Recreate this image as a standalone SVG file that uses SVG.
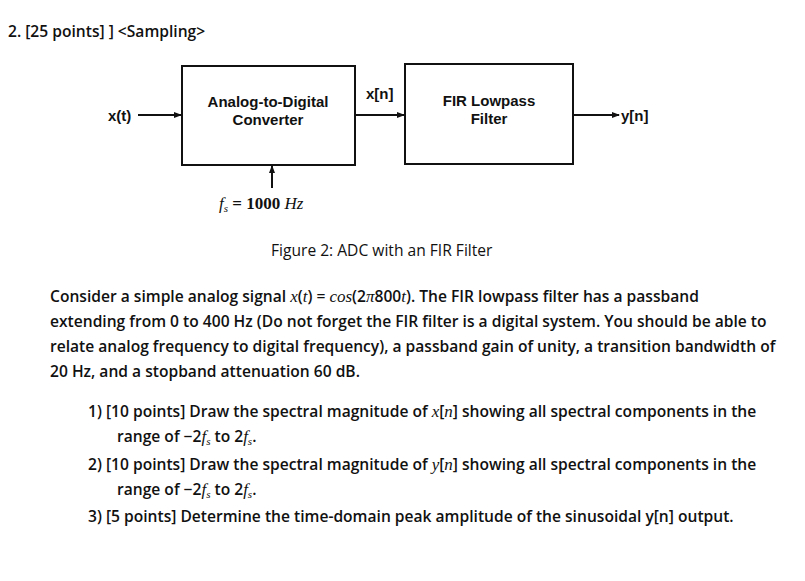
<svg xmlns="http://www.w3.org/2000/svg" width="805" height="581" viewBox="0 0 805 581">
<defs><marker id="a" markerWidth="8" markerHeight="8" refX="7" refY="4" orient="auto" markerUnits="userSpaceOnUse"><path d="M0,1 L8,4 L0,7 Z" fill="#111"/></marker>
<style>.b{fill:#fff;stroke:#111;stroke-width:2}.s{font-family:"Liberation Sans",Arial,sans-serif;font-weight:bold;font-size:15px;fill:#111}.c{font-family:"Open Sans","Liberation Sans",sans-serif;font-size:15.6px;font-weight:600;fill:#111}.l{stroke:#111;stroke-width:2;fill:none}.m{font-family:"Liberation Serif",serif;font-style:italic;font-weight:normal;font-size:17px}</style></defs>
<rect width="805" height="581" fill="#fff"/>
<text class="c" x="8" y="37">2.  [25 points] ] &lt;Sampling&gt;</text>
<g id="adc"><rect class="b" x="182" y="66" width="173" height="99"/><text class="s" x="268" y="107" text-anchor="middle">Analog-to-Digital</text><text class="s" x="268" y="125" text-anchor="middle">Converter</text></g>
<g id="fir"><rect class="b" x="405" y="64" width="168" height="100"/><text class="s" x="489" y="106" text-anchor="middle">FIR Lowpass</text><text class="s" x="489" y="124" text-anchor="middle">Filter</text></g>
<g id="labels"><text class="s" x="108" y="121">x(t)</text><text class="s" x="366" y="99">x[n]</text><text class="s" x="621" y="121">y[n]</text>
<text x="219" y="209" font-family="'Liberation Serif',serif" font-size="17" font-style="italic" fill="#111">f<tspan font-size="11" dy="3">s</tspan><tspan dy="-3" font-style="normal" font-weight="bold"> = 1000 </tspan>Hz</text></g>
<g id="connectors"><line class="l" x1="138" y1="115" x2="181" y2="115" marker-end="url(#a)"/><line class="l" x1="355" y1="115" x2="404" y2="115" marker-end="url(#a)"/><line class="l" x1="573" y1="115" x2="619" y2="115" marker-end="url(#a)"/><line class="l" x1="272" y1="188" x2="272" y2="166" marker-end="url(#a)"/></g>
<g class="c"><text x="271" y="256" font-weight="500">Figure 2: ADC with an FIR Filter</text>
<text x="50" y="302">Consider a simple analog signal <tspan class="m">x</tspan>(<tspan class="m">t</tspan>) = <tspan class="m">cos</tspan>(2<tspan class="m">π</tspan>800<tspan class="m">t</tspan>). The FIR lowpass filter has a passband</text>
<text x="50" y="327">extending from 0 to 400 Hz (Do not forget the FIR filter is a digital system. You should be able to</text>
<text x="50" y="352">relate analog frequency to digital frequency), a passband gain of unity, a transition bandwidth of</text>
<text x="50" y="377">20 Hz, and a stopband attenuation 60 dB.</text>
<text x="88" y="417">1)  [10 points] Draw the spectral magnitude of <tspan class="m">x</tspan>[<tspan class="m">n</tspan>] showing all spectral components in the</text>
<text x="117" y="442">range of −2<tspan class="m">f<tspan font-size="11" dy="3">s</tspan></tspan><tspan dy="-3"> to 2</tspan><tspan class="m">f<tspan font-size="11" dy="3">s</tspan></tspan><tspan dy="-3">.</tspan></text>
<text x="88" y="470">2)  [10 points] Draw the spectral magnitude of <tspan class="m">y</tspan>[<tspan class="m">n</tspan>] showing all spectral components in the</text>
<text x="117" y="495">range of −2<tspan class="m">f<tspan font-size="11" dy="3">s</tspan></tspan><tspan dy="-3"> to 2</tspan><tspan class="m">f<tspan font-size="11" dy="3">s</tspan></tspan><tspan dy="-3">.</tspan></text>
<text x="88" y="522">3)  [5 points] Determine the time-domain peak amplitude of the sinusoidal y[n] output.</text></g>
</svg>
